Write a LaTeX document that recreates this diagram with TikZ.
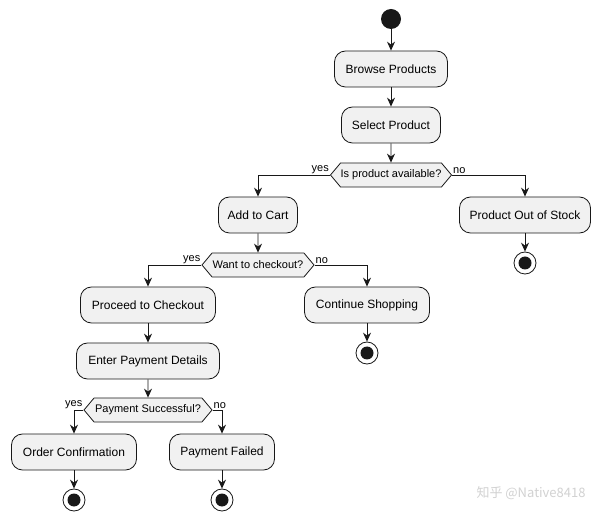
\documentclass[tikz,border=0pt]{standalone}
\usepackage{fontspec}
\setmainfont{Liberation Sans}
\newfontfamily\cjkfont{Noto Sans CJK SC}
\usetikzlibrary{shapes.symbols,arrows.meta}
\definecolor{boxfill}{HTML}{F1F1F1}
\definecolor{lin}{HTML}{181818}
\begin{document}
\begin{tikzpicture}[x=1pt,y=-1pt,
 act/.style={draw=lin,fill=boxfill,rounded corners=11pt,minimum height=36pt,inner xsep=0pt,font=\fontsize{12}{14}\selectfont,line width=0.8pt},
 dec/.style={draw=lin,fill=boxfill,shape=signal,signal to=east and west,signal pointer angle=100,minimum height=24pt,inner sep=0pt,font=\fontsize{11}{13}\selectfont,line width=0.8pt},
 flow/.style={draw=lin,line width=0.8pt,-{Stealth[length=9pt,width=8pt,inset=3pt]}},
 lbl/.style={font=\fontsize{11}{13}\selectfont,inner sep=0pt},
 startnode/.style={circle,fill=lin,minimum size=20pt,inner sep=0pt},
 endnode/.style={circle,draw=lin,fill=white,line width=0.8pt,minimum size=22pt,inner sep=0pt,
   path picture={\fill[lin] (path picture bounding box.center) circle (6.5pt);}},
]
\useasboundingbox (0,0) rectangle (600,521);
\fill[white] (0,0) rectangle (600,521);

\node[startnode] (start) at (391,19) {};
\node[act,minimum width=113pt] (browse) at (391,69) {Browse Products};
\node[act,minimum width=99pt] (select) at (391,125) {Select Product};
\node[dec,minimum width=121pt] (d1) at (391,175) {Is product available?};
\node[act,minimum width=79pt] (add) at (258,215) {Add to Cart};
\node[act,minimum width=131pt] (oos) at (525,215) {Product Out of Stock};
\node[endnode] (e1) at (525,263) {};
\node[dec,minimum width=112pt] (d2) at (258,265) {Want to checkout?};
\node[act,minimum width=135pt] (checkout) at (148,305) {Proceed to Checkout};
\node[act,minimum width=125pt] (cont) at (367,305) {Continue Shopping};
\node[endnode] (e2) at (367,353) {};
\node[act,minimum width=143pt] (pay) at (148,361) {Enter Payment Details};
\node[dec,minimum width=128pt] (d3) at (148,410) {Payment Successful?};
\node[act,minimum width=125pt] (confirm) at (74,452) {Order Confirmation};
\node[act,minimum width=105pt] (failed) at (222,452) {Payment Failed};
\node[endnode] (e3) at (74,500) {};
\node[endnode] (e4) at (222,500) {};

\draw[flow] (start) -- (browse);
\draw[flow] (browse) -- (select);
\draw[flow] (select) -- (d1);
\draw[flow] (d1.west) -| (add.north);
\draw[flow] (d1.east) -| (oos.north);
\draw[flow] (oos) -- (e1);
\draw[flow] (add) -- (d2);
\draw[flow] (d2.west) -| (checkout.north);
\draw[flow] (d2.east) -| (cont.north);
\draw[flow] (cont) -- (e2);
\draw[flow] (checkout) -- (pay);
\draw[flow] (pay) -- (d3);
\draw[flow] (d3.west) -| (confirm.north);
\draw[flow] (d3.east) -| (failed.north);
\draw[flow] (confirm) -- (e3);
\draw[flow] (failed) -- (e4);

\node[lbl,anchor=south east] (y1) at ([xshift=-1pt,yshift=1.5pt]d1.west) {yes};
\node[lbl,anchor=south west] (n1) at ([xshift=1pt,yshift=1.5pt]d1.east) {no};
\node[lbl,anchor=south east] (y2) at ([xshift=-1pt,yshift=1.5pt]d2.west) {yes};
\node[lbl,anchor=south west] (n2) at ([xshift=1pt,yshift=1.5pt]d2.east) {no};
\node[lbl,anchor=south east] (y3) at ([xshift=-1pt,yshift=1.5pt]d3.west) {yes};
\node[lbl,anchor=south west] (n3) at ([xshift=1pt,yshift=1.5pt]d3.east) {no};

\node[font=\cjkfont\fontsize{13}{15}\selectfont,text=gray!35,inner sep=0pt] (wm) at (531,493) {知乎 @Native8418};
\end{tikzpicture}
\end{document}
